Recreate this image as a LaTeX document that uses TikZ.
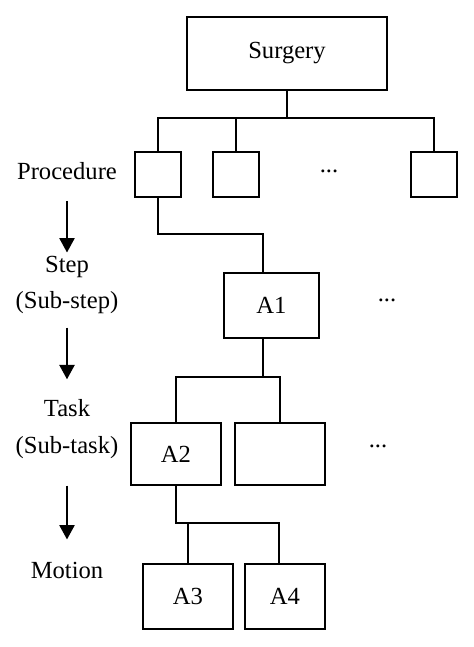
\documentclass[tikz,border=0pt]{standalone}
\usepackage{fontspec}
\setmainfont{Liberation Serif}
\usetikzlibrary{positioning,arrows.meta}

\begin{document}
\begin{tikzpicture}[x=0.025cm, y=-0.025cm, every node/.style={font=\fontsize{17.5}{26}\selectfont}]
    \tikzset{blk/.style={draw,line width=1.4pt,inner sep=0pt},
             lvl/.style={align=center,inner sep=0pt},
             link/.style={line width=1.4pt},
             down/.style={line width=1.3pt,-{Triangle[width=0.38cm,length=0.36cm]}}}
    \useasboundingbox (0,0) rectangle (474,647);
    \node[blk,minimum width=5.02cm,minimum height=1.82cm] (surg) at (287,53.5) {Surgery};
    \node[blk,minimum width=1.15cm,minimum height=1.12cm] (p1) at (158,174.5) {};
    \node[blk,minimum width=1.17cm,minimum height=1.12cm] (p2) at (236,174.5) {};
    \node[blk,minimum width=1.15cm,minimum height=1.12cm] (p3) at (434,174.5) {};
    \node (d1) at (329,171) {...};
    \node[blk,minimum width=2.37cm,minimum height=1.62cm] (a1) at (271.5,305.5) {A1};
    \node (d2) at (387,300) {...};
    \node[blk,minimum width=2.27cm,minimum height=1.55cm] (a2) at (176,454) {A2};
    \node[blk,minimum width=2.27cm,minimum height=1.55cm] (t2) at (280,454) {};
    \node (d3) at (378,446) {...};
    \node[blk,minimum width=2.27cm,minimum height=1.62cm] (a3) at (188,596.5) {A3};
    \node[blk,minimum width=2.0cm,minimum height=1.62cm] (a4) at (285,596.5) {A4};
    % tree links
    \coordinate (k0) at (287,118);
    \coordinate (k1) at (263,234);
    \coordinate (k2) at (263,377);
    \coordinate (k3) at (279,523);
    \draw[link] (surg) -- (k0);
    \draw[link] (p1.north) |- (k0) -| (p3.north);
    \draw[link] (p2.north) -- (p2.north |- k0);
    \draw[link] (p1.south) |- (k1) -- (k1 |- a1.north);
    \draw[link] (k2 |- a1.south) -- (k2);
    \draw[link] (a2.north) |- (k2) -| (t2.north);
    \draw[link] (a2.south) |- (k3) -- (k3 |- a4.north);
    \draw[link] (a3.north) -- (a3.north |- k3);
    % levels
    \node[lvl] (proc) at (67,171) {Procedure};
    \node[lvl] (step) at (67,285) {Step\\(Sub-step)};
    \node[lvl] (task) at (67,429) {Task\\(Sub-task)};
    \node[lvl] (mot) at (67,570) {Motion};
    \draw[down,shorten <=0.52cm,shorten >=0.08cm] (proc) -- (step);
    \draw[down,shorten <=0.33cm,shorten >=0.5cm] (step) -- (task);
    \draw[down,shorten <=0.67cm,shorten >=0.55cm] (task) -- (mot);
\end{tikzpicture}
\end{document}
